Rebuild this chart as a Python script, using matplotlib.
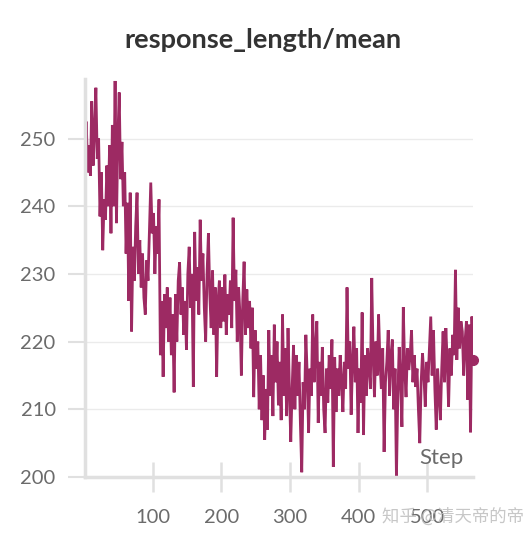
import numpy as np
import matplotlib
matplotlib.use('Agg')
import matplotlib.pyplot as plt

# response_length/mean, one value every 2 steps
values = [
    241, 252.5, 245, 249, 244.5, 255.5, 246, 251, 257.5, 247,
    250, 238.5, 245, 233.5, 241, 238, 246, 240, 249, 236,
    252, 240, 258.5, 237.5, 250, 256.8, 244, 249.5, 240, 245,
    233, 240.5, 226, 242, 221.5, 234, 229, 237, 242, 230,
    235, 228, 233, 226.5, 224, 232, 229, 236, 243.5, 236,
    239, 230, 237, 233, 241, 218, 226, 214.8, 227, 222,
    228, 220, 226.5, 218, 224, 212.5, 227, 220, 229, 231.7,
    224, 228, 221, 226, 218.8, 230, 234, 225, 230, 213.3,
    236.2, 226, 231, 224, 238, 229, 233, 225, 220, 230,
    236, 227, 222, 230.5, 221, 228, 214.8, 226, 229, 222,
    228, 223, 229.9, 221, 227, 224, 229, 222, 238.3, 226,
    230.6, 220, 228, 224, 215, 226, 231.8, 221, 227.7, 222,
    226, 219, 225, 211.8, 221.7, 216, 220, 210, 218, 208.4,
    215, 205.5, 213, 207, 221.7, 212, 218, 209, 222.5, 214,
    220, 210.6, 217, 208.4, 224, 212, 219, 209, 222, 213,
    205.2, 213, 219.5, 210, 218, 212, 217, 208, 200.7, 214,
    210, 221, 215, 206.5, 216, 212, 224, 214, 219, 223,
    208, 217, 212, 219.2, 210, 206.5, 216, 211, 218, 213,
    220.3, 201.5, 217.7, 209.6, 216, 212, 218, 214, 209.6, 217,
    213, 228, 216, 220, 209.2, 217, 222.2, 214, 219, 206.5,
    216, 211, 224.3, 206.2, 218, 212, 219, 216.3, 213, 229.4,
    218, 211.8, 220, 215, 224, 217, 213, 219, 203.7, 214,
    217, 221.7, 212, 218, 220.3, 210, 216, 200, 212, 219.2,
    214, 207.4, 225.1, 216, 211.8, 219, 215.8, 218, 221.7, 214,
    218, 213.3, 216, 210, 205, 214, 218.3, 215, 210.4, 217,
    214, 219, 223.7, 215, 221.7, 213, 207, 216, 212, 208.4,
    216, 221.5, 214, 222, 217, 210.4, 219, 215, 221, 218,
    230.6, 217.3, 225, 219, 223, 221.5, 215, 220, 223, 211.4,
    222.5, 206.6, 223.7, 217.3,
]
steps = np.arange(1, 2 * len(values), 2)

xticks = [100, 200, 300, 400, 500]
yticks = [200, 210, 220, 230, 240, 250]

line_color = '#9d2a63'
grid_color = '#ebebeb'
axis_color = '#e0e0e0'
label_color = '#6b6b6b'

plt.rcParams['font.family'] = ['Lato', 'DejaVu Sans']

fig = plt.figure(figsize=(5.26, 5.40), dpi=100)
ax = fig.add_axes([0.1614, 0.1167, 0.7384, 0.7371])

ax.plot(steps, values, color=line_color, lw=2.0, solid_joinstyle='miter')
ax.plot(steps[-1], values[-1], 'o', color=line_color, ms=7, clip_on=False)

ax.set_xlim(1, steps[-1])
ax.set_ylim(200, 258.8)
ax.set_xticks(xticks)
ax.set_yticks(yticks)

ax.grid(axis='y', color=grid_color, lw=1)
ax.set_axisbelow(True)
for side in ['top', 'right']:
    ax.spines[side].set_visible(False)
for side in ['left', 'bottom']:
    ax.spines[side].set_color(axis_color)
    ax.spines[side].set_linewidth(2.5)

ax.tick_params(axis='x', direction='inout', length=22, width=1.8, color=axis_color,
               labelsize=14.5, labelcolor=label_color, pad=12)
ax.tick_params(axis='y', direction='out', length=12, width=1.5, color=axis_color,
               labelsize=14.5, labelcolor=label_color, pad=9)

ax.text(0.975, 0.022, 'Step', transform=ax.transAxes, ha='right', va='bottom',
        fontsize=16, color=label_color)

fig.text(0.5, 0.926, 'response_length/mean', ha='center', va='center',
         fontsize=19.5, fontweight='bold', color='#333333')

fig.text(0.726, 0.043, '知乎 @清天帝的帝', ha='left', va='center', fontsize=12.5,
         color='#bdbdbd', alpha=0.85, family=['Noto Sans CJK SC', 'DejaVu Sans'])

fig.savefig('out.png', dpi=100, facecolor='white')
